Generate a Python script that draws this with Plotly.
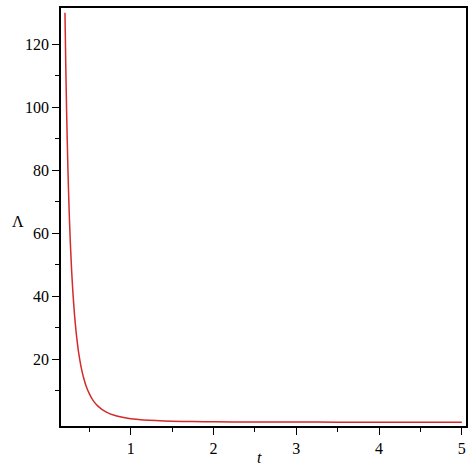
import plotly.graph_objects as go

# values
t = [0.205, 0.215, 0.225, 0.24, 0.255, 0.27, 0.285, 0.30, 0.32, 0.34, 0.36, 0.38,
     0.40, 0.43, 0.46, 0.50, 0.55, 0.60, 0.65, 0.70, 0.80, 0.90, 1.0, 1.15, 1.3,
     1.5, 1.75, 2.0, 2.5, 3.0, 3.5, 4.0, 4.5, 5.0]
lam = [130, 112.7, 98.3, 81.0, 67.5, 56.9, 48.4, 41.5, 34.2, 28.5, 24.0, 20.4,
       17.5, 14.1, 11.5, 9.0, 6.7, 5.2, 4.1, 3.3, 2.2, 1.55, 1.12, 0.74, 0.51,
       0.33, 0.21, 0.14, 0.07, 0.04, 0.026, 0.018, 0.012, 0.009]

x_ticks = [1, 2, 3, 4, 5]
x_minor = [0.5, 1.5, 2.5, 3.5, 4.5]
y_ticks = [20, 40, 60, 80, 100, 120]
y_minor = [10, 30, 50, 70, 90, 110]

serif = "Liberation Serif, Times New Roman, serif"

fig = go.Figure()
fig.add_trace(go.Scatter(x=t, y=lam, mode="lines",
                         line=dict(color="#d42a2a", width=1.5, shape="spline", smoothing=0.6),
                         hoverinfo="skip"))

axis_style = dict(showline=True, linecolor="black", linewidth=1.5, mirror=True,
                  ticks="outside", ticklen=7, tickwidth=1.2, tickcolor="black",
                  showgrid=False, zeroline=False,
                  tickfont=dict(family=serif, size=16, color="black"))

fig.update_xaxes(range=[0.157, 5.05], tickvals=x_ticks,
                 minor=dict(tickvals=x_minor, ticks="outside", ticklen=4, tickcolor="black"),
                 **axis_style)
fig.update_yaxes(range=[-1.2, 131.5], tickvals=y_ticks,
                 minor=dict(tickvals=y_minor, ticks="outside", ticklen=4, tickcolor="black"),
                 **axis_style)

fig.add_annotation(text="Λ", xref="paper", yref="paper", x=-0.125, y=0.49,
                   showarrow=False, font=dict(family=serif, size=16, color="black"))
fig.add_annotation(text="<i>t</i>", xref="paper", yref="paper", x=0.49, y=-0.1,
                   showarrow=False, font=dict(family=serif, size=16, color="black"))

fig.update_layout(width=474, height=474, showlegend=False,
                  margin=dict(l=61, r=7, t=6, b=48),
                  plot_bgcolor="white", paper_bgcolor="white")

fig.write_html("out.html", config={"displayModeBar": False},
               post_script="document.body.style.margin='0';")
